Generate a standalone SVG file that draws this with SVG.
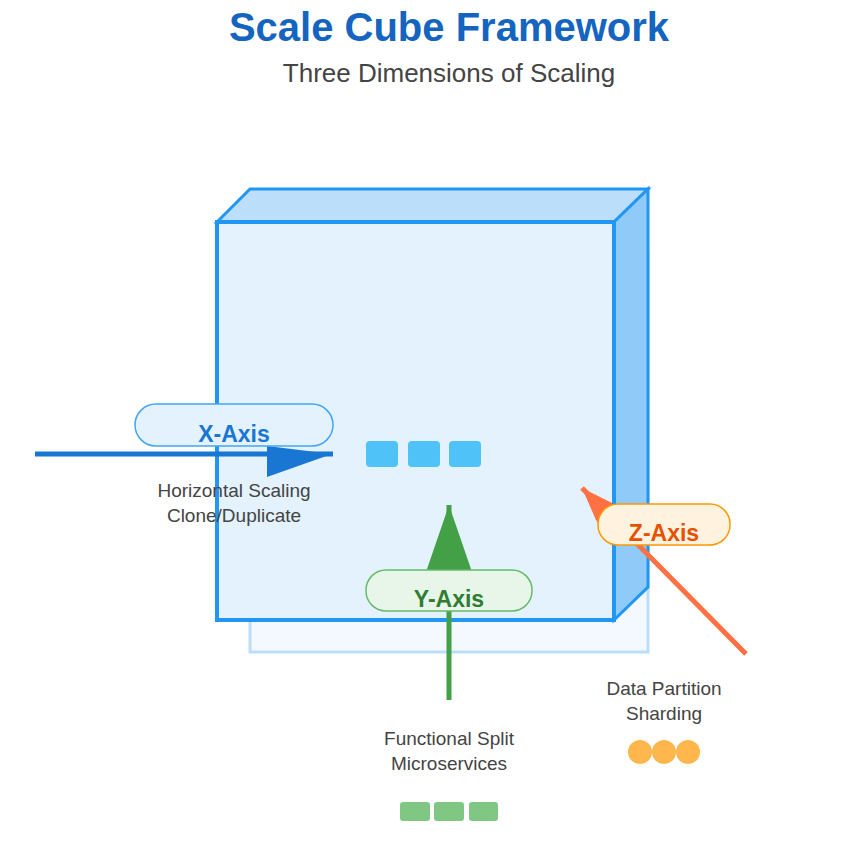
<svg xmlns="http://www.w3.org/2000/svg" width="868" height="848" viewBox="0 0 868 848">
<style>
text{font-family:"Liberation Sans",Arial,sans-serif;text-anchor:middle}
.lbl{font-size:19px;fill:#444}
.ax{font-size:23px;font-weight:bold}
</style>
<rect width="868" height="848" fill="#fff"/>
<text x="449" y="41" font-size="40" font-weight="bold" fill="#1565c0">Scale Cube Framework</text>
<text x="449" y="82" font-size="26" fill="#444">Three Dimensions of Scaling</text>
<g id="cube">
<rect x="250" y="254" width="398" height="398" fill="#f3f9fe" stroke="#bbdefb" stroke-width="3"/>
<polygon points="217,222 250,189 648,189 614,222" fill="#bbdefb" stroke="#2196f3" stroke-width="3"/>
<polygon points="614,222 648,189 648,587 614,620" fill="#90caf9" stroke="#2196f3" stroke-width="3"/>
<rect x="217" y="222" width="397" height="398" fill="#e3f2fd" stroke="#2196f3" stroke-width="4"/>
</g>
<g id="core">
<rect x="366" y="441" width="32" height="26" rx="4" fill="#4fc3f7"/>
<rect x="408" y="441" width="32" height="26" rx="4" fill="#4fc3f7"/>
<rect x="449" y="441" width="32" height="26" rx="4" fill="#4fc3f7"/>
</g>
<g id="connectors">
<line x1="35" y1="454" x2="333" y2="454" stroke="#1976d2" stroke-width="5"/>
<polygon points="267,446 332,454 267,477" fill="#1976d2"/>
<line x1="449" y1="700" x2="449" y2="505" stroke="#43a047" stroke-width="5"/>
<polygon points="449,505 426,572 472,572" fill="#43a047"/>
<line x1="746" y1="654" x2="582" y2="488" stroke="#ff7043" stroke-width="5"/>
<polygon points="582,488 612,503 611,545 596,520" fill="#ff7043"/>
</g>
<g id="x-axis">
<rect x="135" y="404" width="198" height="42" rx="21" fill="#e3f2fd" stroke="#42a5f5" stroke-width="1.5"/>
<text x="234" y="442" class="ax" fill="#1976d2">X-Axis</text>
<text x="234" y="497" class="lbl">Horizontal Scaling</text>
<text x="234" y="522" class="lbl">Clone/Duplicate</text>
</g>
<g id="y-axis">
<rect x="366" y="570" width="166" height="41" rx="20" fill="#e8f5e9" stroke="#66bb6a" stroke-width="1.5"/>
<text x="449" y="607" class="ax" fill="#2e7d32">Y-Axis</text>
<text x="449" y="745" class="lbl">Functional Split</text>
<text x="449" y="770" class="lbl">Microservices</text>
<rect x="400" y="802" width="30" height="19" rx="3" fill="#81c784"/>
<rect x="434" y="802" width="30" height="19" rx="3" fill="#81c784"/>
<rect x="469" y="802" width="29" height="19" rx="3" fill="#81c784"/>
</g>
<g id="z-axis">
<rect x="598" y="504" width="132" height="41" rx="20" fill="#fff3e0" stroke="#ff9800" stroke-width="1.5"/>
<text x="664" y="541" class="ax" fill="#e65100">Z-Axis</text>
<text x="664" y="695" class="lbl">Data Partition</text>
<text x="664" y="720" class="lbl">Sharding</text>
<circle cx="640" cy="752" r="12" fill="#ffb74d"/>
<circle cx="664" cy="752" r="12" fill="#ffb74d"/>
<circle cx="688" cy="752" r="12" fill="#ffb74d"/>
</g>
</svg>
